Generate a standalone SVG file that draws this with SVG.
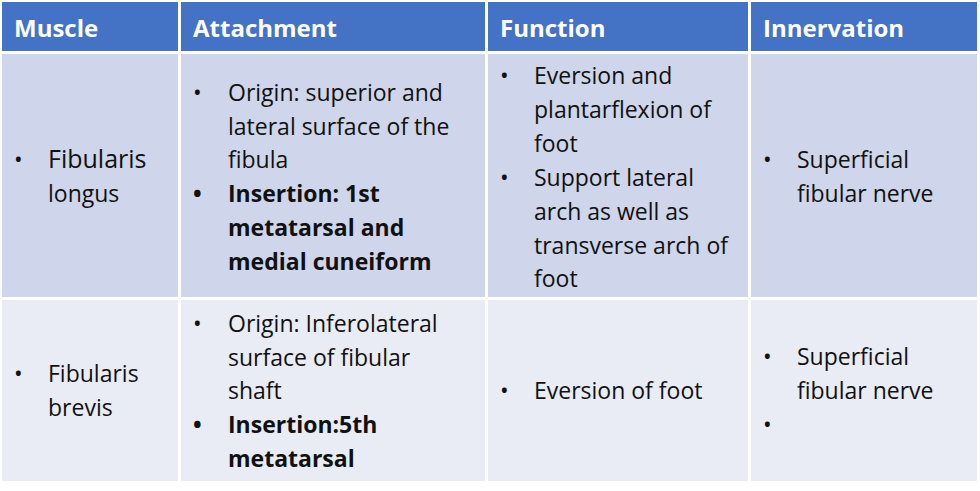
<svg xmlns="http://www.w3.org/2000/svg" width="980" height="491" viewBox="0 0 980 491">
<style>
text{font-family:"Open Sans","Liberation Sans",sans-serif;font-size:23px;fill:#111}
.h{fill:#fff;font-weight:bold;font-size:24px}
.b{font-weight:bold}
</style>
<rect width="980" height="491" fill="#fff"/>
<g id="header">
<rect x="2" y="2" width="176" height="49" fill="#4472C4"/>
<rect x="181" y="2" width="304" height="49" fill="#4472C4"/>
<rect x="488" y="2" width="260" height="49" fill="#4472C4"/>
<rect x="751" y="2" width="226" height="49" fill="#4472C4"/>
<text class="h" x="14" y="37">Muscle</text>
<text class="h" x="193" y="37">Attachment</text>
<text class="h" x="500" y="37">Function</text>
<text class="h" x="763" y="37">Innervation</text>
</g>
<g id="row1">
<rect x="2" y="54" width="176" height="243" fill="#CFD5EA"/>
<rect x="181" y="54" width="304" height="243" fill="#CFD5EA"/>
<rect x="488" y="54" width="260" height="243" fill="#CFD5EA"/>
<rect x="751" y="54" width="226" height="243" fill="#CFD5EA"/>
<text x="14" y="168">•</text><text x="48" y="168" style="font-size:25px">Fibularis</text>
<text x="48" y="202">longus</text>
<text x="193" y="101">•</text><text x="228" y="101">Origin: superior and</text>
<text x="228" y="135">lateral surface of the</text>
<text x="228" y="168">fibula</text>
<text x="193" y="202" class="b">•</text><text x="228" y="202" class="b">Insertion: 1st</text>
<text x="228" y="236" class="b">metatarsal and</text>
<text x="228" y="270" class="b">medial cuneiform</text>
<text x="500" y="84">•</text><text x="534" y="84">Eversion and</text>
<text x="534" y="118">plantarflexion of</text>
<text x="534" y="152">foot</text>
<text x="500" y="186">•</text><text x="534" y="186">Support lateral</text>
<text x="534" y="220">arch as well as</text>
<text x="534" y="254">transverse arch of</text>
<text x="534" y="287">foot</text>
<text x="763" y="168">•</text><text x="797" y="168">Superficial</text>
<text x="797" y="202">fibular nerve</text>
</g>
<g id="row2">
<rect x="2" y="300" width="176" height="181" fill="#E9EBF5"/>
<rect x="181" y="300" width="304" height="181" fill="#E9EBF5"/>
<rect x="488" y="300" width="260" height="181" fill="#E9EBF5"/>
<rect x="751" y="300" width="226" height="181" fill="#E9EBF5"/>
<text x="14" y="382">•</text><text x="48" y="382">Fibularis</text>
<text x="48" y="416">brevis</text>
<text x="193" y="332">•</text><text x="228" y="332">Origin: Inferolateral</text>
<text x="228" y="366">surface of fibular</text>
<text x="228" y="399">shaft</text>
<text x="193" y="433" class="b">•</text><text x="228" y="433" class="b">Insertion:5th</text>
<text x="228" y="467" class="b">metatarsal</text>
<text x="500" y="399">•</text><text x="534" y="399">Eversion of foot</text>
<text x="763" y="365">•</text><text x="797" y="365">Superficial</text>
<text x="797" y="399">fibular nerve</text>
<text x="763" y="433">•</text>
</g>
<g id="connectors"/>
</svg>
